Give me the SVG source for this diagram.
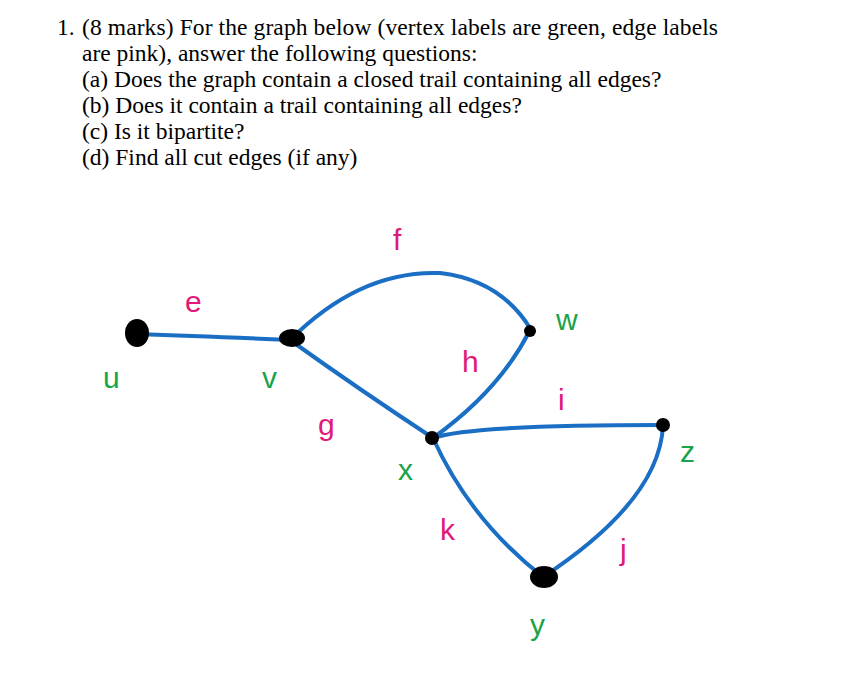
<svg xmlns="http://www.w3.org/2000/svg" width="852" height="690" viewBox="0 0 852 690">
<style>
.q{font-family:"Liberation Serif",serif;font-size:23.5px;fill:#000}
.e{stroke:#1a6fc4;stroke-width:4;fill:none;stroke-linecap:round}
.pk{font-family:"Liberation Sans",sans-serif;font-size:30px;fill:#e0197a}
.gr{font-family:"Liberation Sans",sans-serif;font-size:30px;fill:#1aa34a}
</style>
<rect width="852" height="690" fill="#fff"/>
<g id="question">
<text class="q" x="57" y="35">1.</text>
<text class="q" x="82" y="35" textLength="636" lengthAdjust="spacing">(8 marks) For the graph below (vertex labels are green, edge labels</text>
<text class="q" x="82" y="61">are pink), answer the following questions:</text>
<text class="q" x="82" y="87">(a) Does the graph contain a closed trail containing all edges?</text>
<text class="q" x="82" y="113">(b) Does it contain a trail containing all edges?</text>
<text class="q" x="82" y="139">(c) Is it bipartite?</text>
<text class="q" x="82" y="165">(d) Find all cut edges (if any)</text>
</g>
<g id="connectors">
<path class="e" d="M137,334 Q200,336 290,340"/>
<path class="e" d="M290,340 Q360,270 440,273 Q500,280 530,328"/>
<path class="e" d="M290,340 Q360,390 433,438"/>
<path class="e" d="M433,438 Q500,390 530,330"/>
<path class="e" d="M433,438 Q470,425 663,425"/>
<path class="e" d="M433,438 Q470,520 543,577"/>
<path class="e" d="M663,425 Q660,500 543,577"/>
</g>
<g id="node-u"><ellipse cx="137" cy="333" rx="12" ry="14" fill="#000"/><text class="gr" x="103" y="388">u</text></g>
<g id="node-v"><ellipse cx="292" cy="338" rx="13" ry="9" fill="#000"/><text class="gr" x="262" y="388">v</text></g>
<g id="node-w"><circle cx="530" cy="331" r="6" fill="#000"/><text class="gr" x="556" y="330">w</text></g>
<g id="node-x"><circle cx="432" cy="438" r="7" fill="#000"/><text class="gr" x="398" y="480">x</text></g>
<g id="node-z"><circle cx="663" cy="425" r="7" fill="#000"/><text class="gr" x="680" y="462">z</text></g>
<g id="node-y"><ellipse cx="544" cy="577" rx="14" ry="11" fill="#000"/><text class="gr" x="530" y="635">y</text></g>
<g id="edge-labels">
<text class="pk" x="185" y="312">e</text>
<text class="pk" x="393" y="250">f</text>
<text class="pk" x="318" y="435">g</text>
<text class="pk" x="462" y="372">h</text>
<text class="pk" x="558" y="410">i</text>
<text class="pk" x="620" y="560">j</text>
<text class="pk" x="440" y="540">k</text>
</g>
</svg>
